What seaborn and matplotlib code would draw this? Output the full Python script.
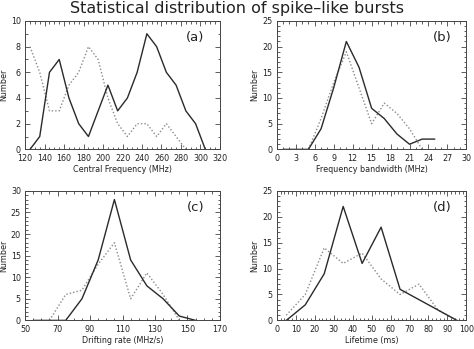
import matplotlib
matplotlib.use("Agg")
import matplotlib.pyplot as plt
from matplotlib.ticker import MultipleLocator, FixedLocator
import pandas as pd
import seaborn as sns

# (a) central frequency
freq_x_solid = [125, 135, 145, 155, 165, 175, 185, 195, 205, 215, 225, 235, 245, 255, 265, 275, 285, 295, 305]
freq_y_solid = [0, 1, 6, 7, 4, 2, 1, 3, 5, 3, 4, 6, 9, 8, 6, 5, 3, 2, 0]
freq_x_dot = [125, 135, 145, 155, 165, 175, 185, 195, 205, 215, 225, 235, 245, 255, 265, 275, 285]
freq_y_dot = [8, 6, 3, 3, 5, 6, 8, 7, 4, 2, 1, 2, 2, 1, 2, 1, 0]
freq_ticks = [120, 140, 160, 180, 200, 220, 240, 260, 280, 300, 320]

# (b) frequency bandwidth
bw_x_solid = [1, 3, 5, 7, 9, 11, 13, 15, 17, 19, 21, 23, 25]
bw_y_solid = [0, 0, 0, 4, 12, 21, 16, 8, 6, 3, 1, 2, 2]
bw_x_dot = [5, 7, 9, 11, 13, 15, 17, 19, 21, 23]
bw_y_dot = [0, 6, 13, 19, 12, 5, 9, 7, 4, 0]
bw_ticks = [0, 3, 6, 9, 12, 15, 18, 21, 24, 27, 30]

# (c) drifting rate
dr_x_solid = [55, 65, 75, 85, 95, 105, 115, 125, 135, 145, 155]
dr_y_solid = [0, 0, 0, 5, 14, 28, 14, 8, 5, 1, 0]
dr_x_dot = [65, 75, 85, 95, 105, 115, 125, 135, 145]
dr_y_dot = [0, 6, 7, 13, 18, 5, 11, 6, 0]
dr_ticks = [50, 70, 90, 110, 130, 150, 170]

# (d) lifetime
lt_x_solid = [5, 15, 25, 35, 45, 55, 65, 75, 85, 95]
lt_y_solid = [0, 3, 9, 22, 11, 18, 6, 4, 2, 0]
lt_x_dot = [5, 15, 25, 35, 45, 55, 65, 75, 85, 95]
lt_y_dot = [1, 5, 14, 11, 13, 8, 5, 7, 2, 0]
lt_ticks = [0, 10, 20, 30, 40, 50, 60, 70, 80, 90, 100]

panels = [
    dict(xs=freq_x_solid, ys=freq_y_solid, xd=freq_x_dot, yd=freq_y_dot,
         xticks=freq_ticks, xmin=5, ylim=(0, 10), ymaj=2, ymin=1,
         xlabel="Central Frequency (MHz)", tag="(a)",
         rect=[0.053, 0.572, 0.411, 0.368]),
    dict(xs=bw_x_solid, ys=bw_y_solid, xd=bw_x_dot, yd=bw_y_dot,
         xticks=bw_ticks, xmin=1, ylim=(0, 25), ymaj=5, ymin=1,
         xlabel="Frequency bandwidth (MHz)", tag="(b)",
         rect=[0.584, 0.572, 0.400, 0.368]),
    dict(xs=dr_x_solid, ys=dr_y_solid, xd=dr_x_dot, yd=dr_y_dot,
         xticks=dr_ticks, xmin=5, ylim=(0, 30), ymaj=5, ymin=1,
         xlabel="Drifting rate (MHz/s)", tag="(c)",
         rect=[0.053, 0.082, 0.411, 0.371]),
    dict(xs=lt_x_solid, ys=lt_y_solid, xd=lt_x_dot, yd=lt_y_dot,
         xticks=lt_ticks, xmin=2, ylim=(0, 25), ymaj=5, ymin=1,
         xlabel="Lifetime (ms)", tag="(d)",
         rect=[0.584, 0.082, 0.400, 0.371]),
]

sns.set_style("ticks")
plt.rcParams["font.family"] = ["DejaVu Sans"]

fig = plt.figure(figsize=(4.74, 3.49), dpi=100)

for p in panels:
    ax = fig.add_axes(p["rect"])
    solid = pd.DataFrame({"x": p["xs"], "y": p["ys"]})
    dotted = pd.DataFrame({"x": p["xd"], "y": p["yd"]})
    sns.lineplot(data=dotted, x="x", y="y", ax=ax, color="#8a8a8a",
                 linestyle=(0, (1, 1.5)), linewidth=1.0)
    sns.lineplot(data=solid, x="x", y="y", ax=ax, color="#2a2a2a",
                 linewidth=1.0)
    ticks = p["xticks"]
    ax.set_xlim(ticks[0], ticks[-1])
    ax.set_ylim(*p["ylim"])
    ax.xaxis.set_major_locator(FixedLocator(ticks))
    ax.xaxis.set_minor_locator(MultipleLocator(p["xmin"]))
    ax.yaxis.set_major_locator(MultipleLocator(p["ymaj"]))
    ax.yaxis.set_minor_locator(MultipleLocator(p["ymin"]))
    ax.tick_params(which="both", direction="in", top=True, right=True,
                   colors="#444444", labelcolor="#222222", width=0.6)
    ax.tick_params(which="major", length=3.5, labelsize=5.8)
    ax.tick_params(axis="x", which="major", pad=3.5)
    ax.tick_params(axis="y", which="major", pad=3)
    ax.tick_params(which="minor", length=1.8)
    for s in ax.spines.values():
        s.set_linewidth(0.7)
        s.set_color("#444444")
    ax.set_xlabel(p["xlabel"], fontsize=5.8, labelpad=1, color="#222222")
    ax.set_ylabel("Number", fontsize=5.8, labelpad=2, color="#222222")
    ax.text(0.92, 0.87, p["tag"], transform=ax.transAxes, ha="right",
            va="center", fontsize=9.5, color="#222222")

fig.suptitle("Statistical distribution of spike\u2013like bursts", fontsize=11.5,
             y=0.997, va="top", color="#222222")

fig.savefig("out.png", dpi=100)
